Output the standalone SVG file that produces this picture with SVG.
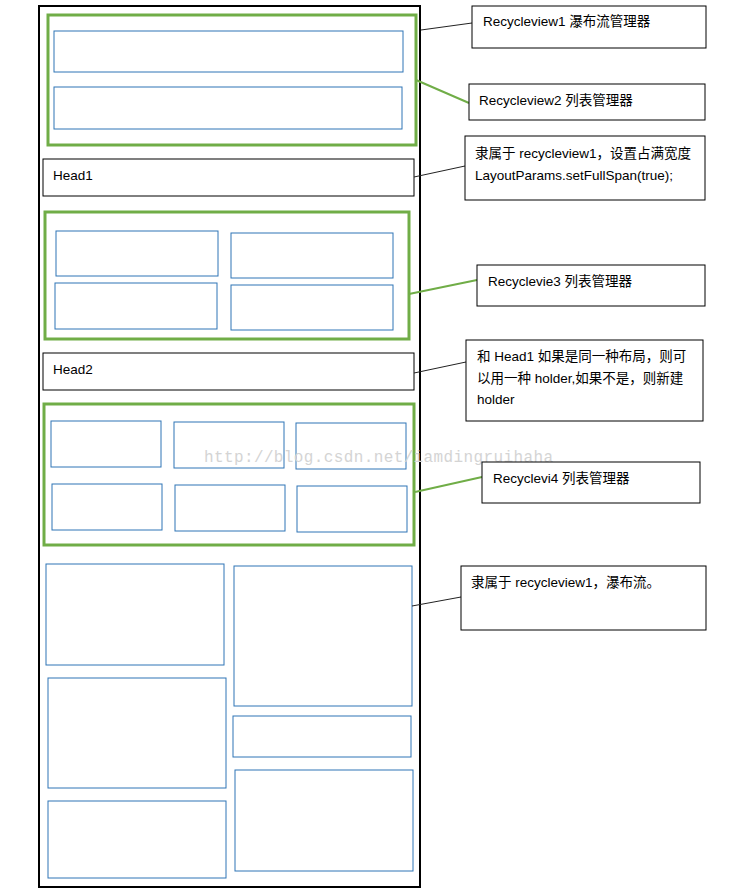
<svg xmlns="http://www.w3.org/2000/svg" width="739" height="891" viewBox="0 0 739 891">
<style>
.g{fill:none;stroke:#70AD47;stroke-width:3}
.b{fill:#fff;stroke:#2E75B6;stroke-width:1}
.k{fill:#fff;stroke:#000;stroke-width:1}
text{font-family:"Liberation Sans","Noto Sans CJK SC",sans-serif;font-size:13.5px;fill:#000}
.lk{stroke:#222;stroke-width:1}
.lg{stroke:#70AD47;stroke-width:2}
</style>
<rect width="739" height="891" fill="#fff"/>
<rect x="39" y="6" width="381" height="881" fill="#fff" stroke="#000" stroke-width="2"/>
<g id="rv2"><rect class="g" x="48" y="15" width="368" height="130"/>
<rect class="b" x="54" y="31" width="349" height="41"/><rect class="b" x="54" y="87" width="348" height="42"/></g>
<g id="head1"><rect class="k" x="43" y="159" width="371" height="37"/><text x="53" y="180">Head1</text></g>
<g id="rv3"><rect class="g" x="45" y="212" width="364" height="127"/>
<rect class="b" x="56" y="231" width="162" height="45"/><rect class="b" x="231" y="233" width="162" height="45"/>
<rect class="b" x="55" y="283" width="162" height="46"/><rect class="b" x="231" y="285" width="162" height="45"/></g>
<g id="head2"><rect class="k" x="43" y="353" width="371" height="37"/><text x="53" y="374">Head2</text></g>
<g id="rv4"><rect class="g" x="44" y="404" width="370" height="141"/>
<rect class="b" x="51" y="421" width="110" height="46"/><rect class="b" x="174" y="422" width="110" height="46"/><rect class="b" x="296" y="423" width="110" height="46"/>
<rect class="b" x="52" y="484" width="110" height="46"/><rect class="b" x="175" y="485" width="110" height="46"/><rect class="b" x="297" y="486" width="110" height="46"/></g>
<g id="waterfall">
<rect class="b" x="46" y="564" width="178" height="101"/><rect class="b" x="234" y="566" width="178" height="140"/>
<rect class="b" x="48" y="678" width="178" height="110"/><rect class="b" x="233" y="716" width="178" height="41"/>
<rect class="b" x="48" y="801" width="178" height="77"/><rect class="b" x="235" y="770" width="178" height="101"/></g>
<text x="204" y="462" textLength="349" style="font-family:'Liberation Mono',monospace;font-size:16px;fill:#d4d4d4">http://blog.csdn.net/iamdingruihaha</text>
<g id="connectors">
<line class="lk" x1="421" y1="30" x2="472" y2="23"/>
<line class="lg" x1="416" y1="80" x2="469" y2="103"/>
<line class="lk" x1="414" y1="177" x2="465" y2="166"/>
<line class="lg" x1="409" y1="294" x2="477" y2="280"/>
<line class="lk" x1="414" y1="373" x2="466" y2="362"/>
<line class="lg" x1="415" y1="492" x2="482" y2="477"/>
<line class="lk" x1="412" y1="606" x2="461" y2="597"/>
</g>
<g id="c1"><rect class="k" x="472" y="6" width="234" height="42"/><text x="483" y="26">Recycleview1 瀑布流管理器</text></g>
<g id="c2"><rect class="k" x="469" y="84" width="236" height="36"/><text x="479" y="105">Recycleview2 列表管理器</text></g>
<g id="c3"><rect class="k" x="465" y="136" width="240" height="64"/><text x="475" y="158">隶属于 recycleview1，设置占满宽度</text><text x="475" y="180">LayoutParams.setFullSpan(true);</text></g>
<g id="c4"><rect class="k" x="477" y="265" width="228" height="41"/><text x="488" y="286">Recyclevie3 列表管理器</text></g>
<g id="c5"><rect class="k" x="466" y="340" width="237" height="81"/><text x="477" y="361">和 Head1 如果是同一种布局，则可</text><text x="477" y="383">以用一种 holder,如果不是，则新建</text><text x="477" y="404">holder</text></g>
<g id="c6"><rect class="k" x="482" y="462" width="218" height="41"/><text x="493" y="483">Recyclevi4 列表管理器</text></g>
<g id="c7"><rect class="k" x="461" y="566" width="245" height="64"/><text x="471" y="587">隶属于 recycleview1，瀑布流。</text></g>
</svg>
